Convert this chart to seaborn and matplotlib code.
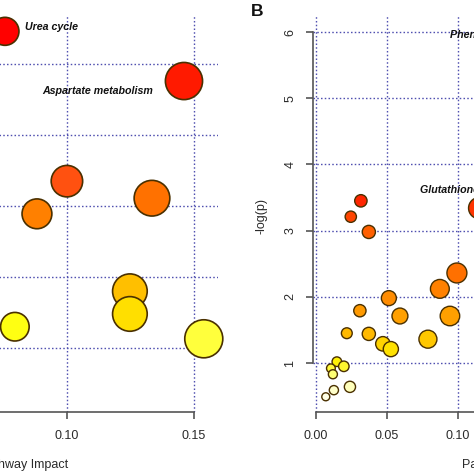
import numpy as np
import pandas as pd
import matplotlib
matplotlib.use("Agg")
import matplotlib.pyplot as plt
from matplotlib.colors import LinearSegmentedColormap
import seaborn as sns

# ---- Painel A (cortado) : impacto vs -log(p) ----
impact_a = [0.0756, 0.1461, 0.1000, 0.0882, 0.1335, 0.1248, 0.1248, 0.0795, 0.1539]
logp_a = [5.46, 4.76, 3.35, 2.89, 3.11, 1.80, 1.48, 1.30, 1.13]
labels_a = ["Urea cycle", "Aspartate metabolism"]
label_pos_a = [(0.0835, 5.52), (0.0902, 4.62)]

# ---- Painel B ----
impact_b = [0.0317, 0.0246, 0.0373, 0.1150, 0.0993, 0.0873, 0.0514, 0.0310,
            0.0592, 0.0944, 0.0218, 0.0373, 0.0472, 0.0528, 0.0789, 0.0148,
            0.0197, 0.0106, 0.0120, 0.0240, 0.0127, 0.0070]
logp_b = [3.45, 3.21, 2.98, 3.34, 2.36, 2.12, 1.98, 1.79,
          1.71, 1.71, 1.45, 1.44, 1.29, 1.21, 1.36, 1.02,
          0.95, 0.92, 0.83, 0.64, 0.59, 0.49]
labels_b = ["Glutathione metabolism", "Phenylalanine metabolism"]
label_pos_b = [(0.0735, 3.61), (0.0944, 5.95)]

df_a = pd.DataFrame({"impact": impact_a, "logp": logp_a})
df_b = pd.DataFrame({"impact": impact_b, "logp": logp_b})

sns.set_style("white")
plt.rcParams["font.family"] = ["Liberation Sans", "DejaVu Sans"]

heat_a = LinearSegmentedColormap.from_list("heat_a", [
    (0.0, "#FFFF40"), (0.045, "#FFFF10"), (0.086, "#FFDF00"), (0.159, "#FFBE00"),
    (0.407, "#FF8000"), (0.457, "#FF7000"), (0.511, "#FF5010"), (0.832, "#FF1A00"),
    (1.0, "#FF0000")])
heat_b = LinearSegmentedColormap.from_list("heat_b", [
    (0.0, "#FFFFF2"), (0.062, "#FFFFB8"), (0.125, "#FFFF70"), (0.187, "#FFF000"),
    (0.249, "#FFE000"), (0.328, "#FFB800"), (0.413, "#FFA000"), (0.502, "#FF8C00"),
    (0.626, "#FF7000"), (0.830, "#FF6000"), (0.905, "#FF4500"), (1.0, "#FF2000")])

grid_kw = dict(color="#5050B0", linestyle=(0, (1.1, 1.6)), linewidth=1.0)
axis_col = "#555555"
text_col = "#2a2a2a"

fig = plt.figure(figsize=(4.74, 4.74), dpi=100)

# painel A : posicionado parcialmente fora da figura
ax1 = fig.add_axes([-150 / 474, 62 / 474, 368 / 474, 397 / 474])
sns.scatterplot(data=df_a, x="impact", y="logp", hue="logp", size="impact",
                palette=heat_a, hue_norm=(1.1, 5.5),
                sizes=(406, 750), size_norm=(0.0756, 0.1539),
                edgecolor="#4a3000", linewidth=1.2, legend=False, ax=ax1, zorder=3)
for coll in ax1.collections:
    coll.set_clip_on(False)
ax1.set_xlim(0.01457, 0.1595)
ax1.set_ylim(0.099, 5.69)
ax1.set_xticks([0.05, 0.10, 0.15])
ax1.set_xticklabels(["0.05", "0.10", "0.15"])
ax1.set_yticks([1, 2, 3, 4, 5])
ax1.tick_params(axis="y", left=False, labelleft=False)
ax1.grid(True, **grid_kw)
ax1.set_axisbelow(True)
for s in ["top", "right", "left"]:
    ax1.spines[s].set_visible(False)
ax1.spines["bottom"].set_bounds(0.05, 0.15)
ax1.spines["bottom"].set_color(axis_col)
ax1.spines["bottom"].set_linewidth(1.2)
ax1.tick_params(axis="x", length=5, width=1.2, color=axis_col, pad=8,
                labelsize=9, labelcolor=text_col, bottom=True)
ax1.set_xlabel("")
ax1.set_ylabel("")
for txt, (tx, ty) in zip(labels_a, label_pos_a):
    ax1.text(tx, ty, txt, ha="left", va="center", fontsize=7.7,
             fontweight="bold", fontstyle="italic", color="#111111")

# painel B
ax2 = fig.add_axes([313 / 474, 62 / 474, 358 / 474, 397 / 474])
sns.scatterplot(data=df_b, x="impact", y="logp", hue="logp", size="impact",
                palette=heat_b, hue_norm=(0.45, 3.5),
                sizes=(33, 236), size_norm=(0.007, 0.115),
                edgecolor="#4a3000", linewidth=1.0, legend=False, ax=ax2, zorder=3)
ax2.set_xlim(-0.002, 0.25)
ax2.set_ylim(0.26, 6.257)
ax2.set_xticks([0.0, 0.05, 0.10, 0.15, 0.20])
ax2.set_xticklabels(["0.00", "0.05", "0.10", "0.15", "0.20"])
ax2.set_yticks([1, 2, 3, 4, 5, 6])
ax2.grid(True, **grid_kw)
ax2.set_axisbelow(True)
for s in ["top", "right"]:
    ax2.spines[s].set_visible(False)
ax2.spines["left"].set_bounds(1, 6)
ax2.spines["bottom"].set_bounds(0.0, 0.20)
for s in ["left", "bottom"]:
    ax2.spines[s].set_color(axis_col)
    ax2.spines[s].set_linewidth(1.2)
ax2.tick_params(axis="x", length=5, width=1.2, color=axis_col, pad=8,
                labelsize=9, labelcolor=text_col, bottom=True)
ax2.tick_params(axis="y", length=5, width=1.2, color=axis_col, pad=7,
                labelsize=9, labelcolor=text_col, left=True, labelrotation=90)
for lab in ax2.get_yticklabels():
    lab.set_va("center")
ax2.set_xlabel("")
ax2.set_ylabel("")
for txt, (tx, ty) in zip(labels_b, label_pos_b):
    ax2.text(tx, ty, txt, ha="left", va="center", fontsize=7.7,
             fontweight="bold", fontstyle="italic", color="#111111")

# titulos de eixo e letra do painel
fig.text(68 / 474, 1 - 465 / 474, "Pathway Impact", ha="right", va="center",
         fontsize=9, color=text_col)
fig.text(462 / 474, 1 - 465 / 474, "Pathway Impact", ha="left", va="center",
         fontsize=9, color=text_col)
fig.text(262 / 474, 1 - 216 / 474, "-log(p)", ha="center", va="center",
         rotation=90, fontsize=9, color=text_col)
fig.text(251 / 474, 1 - 16 / 474, "B", ha="left", va="baseline",
         fontsize=12.5, fontweight="bold", color="#111111")

fig.savefig("out.png", dpi=100)
